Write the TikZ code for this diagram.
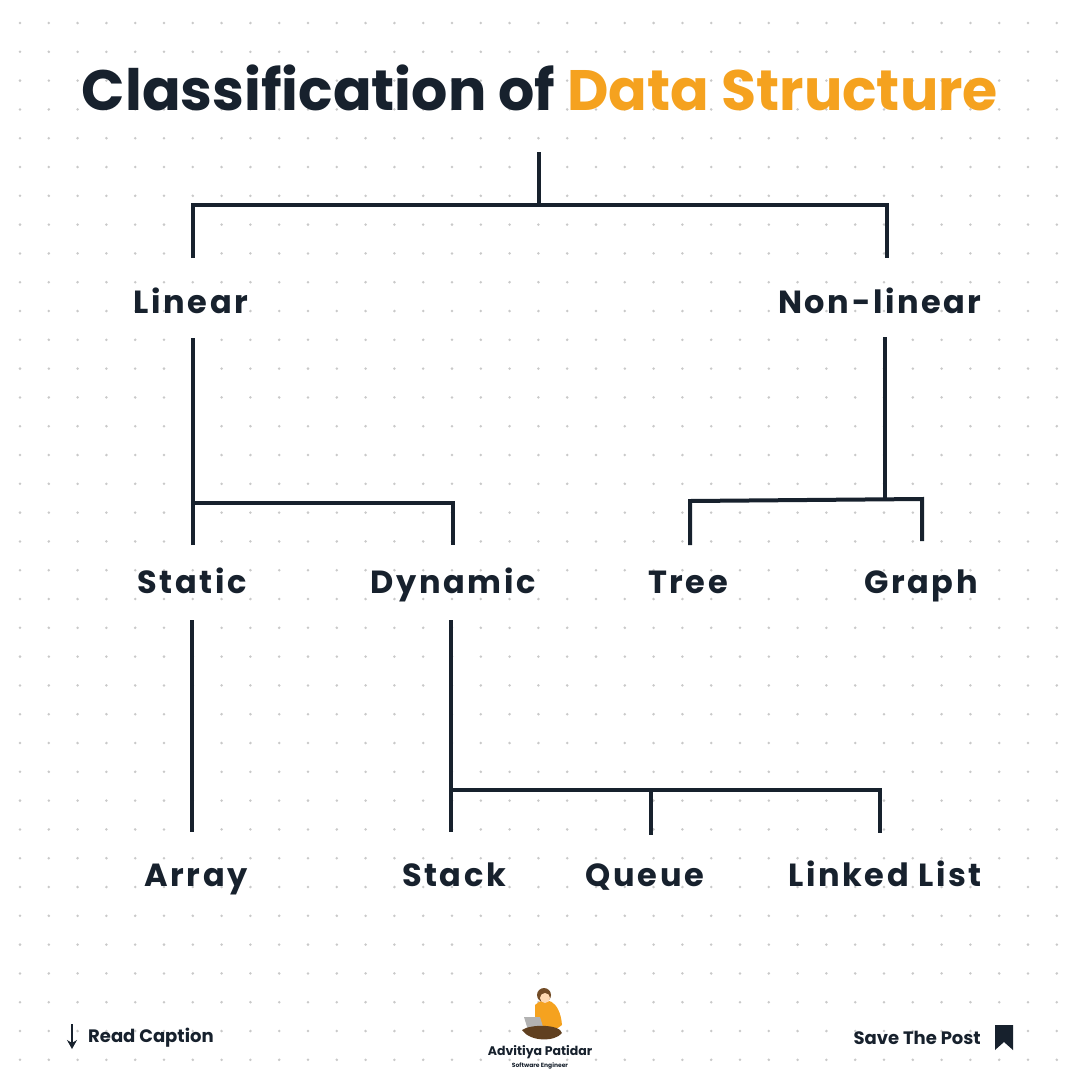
\documentclass[tikz,border=0pt]{standalone}
\usepackage{fontspec}
\usetikzlibrary{arrows.meta}
\setmainfont{Poppins}
\newfontfamily\spaced[LetterSpace=8]{Poppins}
\definecolor{ink}{HTML}{17212D}
\definecolor{gold}{HTML}{F5A21F}
\definecolor{dotc}{HTML}{C9C9C9}
\begin{document}
\begin{tikzpicture}[x=1pt,y=-1pt,
  lbl/.style={font=\spaced\fontsize{32}{36}\selectfont\bfseries, text=ink, inner sep=0pt, anchor=base},
  conn/.style={draw=ink, line width=4pt}]
\useasboundingbox (0,0) rectangle (1080,1080);
\fill[white] (0,0) rectangle (1080,1080);
\foreach \i in {0,...,37} \foreach \j in {0,...,37}
  \fill[dotc] (20+28.8*\i,23+28.8*\j) circle (1.4);
\node[inner sep=0pt, font=\fontsize{57}{60}\selectfont\bfseries] (title) at (540,88)
  {\textcolor{ink}{Classification of} \textcolor{gold}{Data Structure}};
\node[lbl] (lin) at (191,313) {Linear};
\node[lbl] (nonlin) at (880,313) {Non-linear};
\node[lbl] (stat) at (192,593) {Static};
\node[lbl] (dyn) at (453,593) {Dynamic};
\node[lbl] (tree) at (688,593) {Tree};
\node[lbl] (graph) at (921,593) {Graph};
\node[lbl] (arr) at (196,886) {Array};
\node[lbl] (stack) at (454,886) {Stack};
\node[lbl] (queue) at (645,886) {Queue};
\node[lbl] (ll) at (885,886) {Linked List};
\coordinate (root) at (539,152);
\draw[conn] (root) -- (539,205);
\draw[conn] (193,258) -- (193,205) -- (887,205) -- (887,258);
\draw[conn] (193,338) -- (193,503);
\draw[conn] (193,545) -- (193,503) -- (453,503) -- (453,545);
\draw[conn] (885,337) -- (885,500);
\draw[conn] (690,545) -- (690,501) -- (922,499) -- (922,541);
\draw[conn] (192,620) -- (192,832);
\draw[conn] (451,620) -- (451,832);
\draw[conn] (451,790) -- (880,790) -- (880,833);
\draw[conn] (651,790) -- (651,835);
% footer
\draw[ink, line width=2.5pt, -{Stealth[length=9pt,width=10pt]}] (72,1024) -- (72,1049);
\node[inner sep=0pt, anchor=west, text=ink, font=\fontsize{18}{20}\selectfont\bfseries] (rc) at (88,1038) {Read Caption};
\node[inner sep=0pt, anchor=east, text=ink, font=\fontsize{18}{20}\selectfont\bfseries] (sp) at (981,1038) {Save The Post};
\fill[ink] (995,1025) -- (1013,1025) -- (1013,1050) -- (1004,1042) -- (995,1050) -- cycle;
% avatar
\fill[gold] (535,1005) .. controls (545,995) and (560,1000) .. (562,1025) -- (555,1030) -- (535,1030) -- cycle;
\fill[brown!60!black] (544,995) circle (7);
\fill[orange!30] (545,998) circle (5);
\fill[gray!60] (524,1017) -- (540,1017) -- (544,1030) -- (528,1030) -- cycle;
\fill[brown!50!black] (522,1030) .. controls (530,1024) and (560,1024) .. (562,1033) .. controls (555,1042) and (530,1042) .. (522,1030) -- cycle;
\node[inner sep=0pt, text=ink, font=\fontsize{12.5}{13}\selectfont\bfseries] (name) at (540,1052) {Advitiya Patidar};
\node[inner sep=0pt, text=ink, font=\fontsize{6}{7}\selectfont\bfseries] (job) at (540,1066) {Software Engineer};
\end{tikzpicture}
\end{document}
